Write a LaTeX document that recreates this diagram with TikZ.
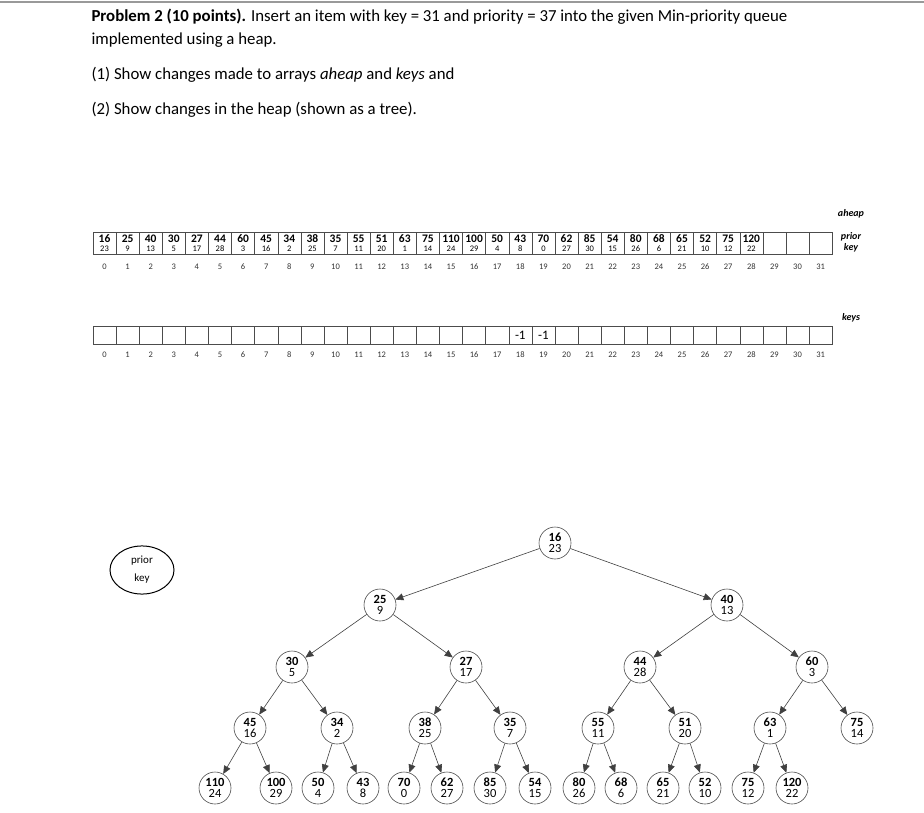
\documentclass[tikz,border=0pt]{standalone}
\usepackage{fontspec}
\setmainfont{Carlito}
\usetikzlibrary{arrows.meta,shapes.geometric}
\begin{document}
\begin{tikzpicture}[x=1pt,y=-1pt,
  tn/.style={circle,draw=black!70,line width=0.6pt,minimum size=32pt,inner sep=0pt,align=center,font=\fontsize{12.5}{11}\selectfont},
  cell/.style={draw=black!70,minimum width=23.1pt,minimum height=22pt,inner sep=0pt},
  idx/.style={font=\fontsize{8.5}{9}\selectfont,text=black!80},
  ar/.style={-{Triangle[length=8pt,width=7pt]},black!75,line width=0.6pt}]
\useasboundingbox (0,0) rectangle (924,813);
\draw[black!40,line width=1.5pt] (0,2) -- (924,2);
\node[anchor=west,font=\fontsize{16.8}{20}\selectfont] (t1) at (88,17) {\textbf{Problem 2 (10 points).} Insert an item with key = 31 and priority = 37 into the given Min-priority queue};
\node[anchor=west,font=\fontsize{16.8}{20}\selectfont] (t2) at (88,40) {implemented using a heap.};
\node[anchor=west,font=\fontsize{16.8}{20}\selectfont] (t3) at (88,75) {(1) Show changes made to arrays \textit{aheap} and \textit{keys} and};
\node[anchor=west,font=\fontsize{16.8}{20}\selectfont] (t4) at (88,110) {(2) Show changes in the heap (shown as a tree).};
% aheap array
\foreach \i/\p/\k in {0/16/23,1/25/9,2/40/13,3/30/5,4/27/17,5/44/28,6/60/3,7/45/16,8/34/2,9/38/25,10/35/7,11/55/11,12/51/20,13/63/1,14/75/14,15/110/24,16/100/29,17/50/4,18/43/8,19/70/0,20/62/27,21/85/30,22/54/15,23/80/26,24/68/6,25/65/21,26/52/10,27/75/12,28/120/22,29/{}/{},30/{}/{},31/{}/{}}{
  \node[cell] (a\i) at ({104.5+23.1*\i},243) {};
  \node[font=\bfseries\fontsize{11.5}{11}\selectfont,inner sep=0pt] (ap\i) at ([yshift=4.5pt]a\i.center) {\p};
  \node[font=\fontsize{8.5}{9}\selectfont,inner sep=0pt] (ak\i) at ([yshift=-5.5pt]a\i.center) {\k};
  \node[idx] (ai\i) at ({104.5+23.1*\i},267) {\i};
  \node[cell,minimum height=18pt] (k\i) at ({104.5+23.1*\i},335) {};
  \node[idx] (ki\i) at ({104.5+23.1*\i},355) {\i};
}
\node[font=\fontsize{13}{13}\selectfont] (m18) at (k18) {-1};
\node[font=\fontsize{13}{13}\selectfont] (m19) at (k19) {-1};
\node[font=\bfseries\itshape\fontsize{10}{11}\selectfont] (lah) at (851,214) {aheap};
\node[font=\bfseries\itshape\fontsize{10}{11}\selectfont,align=center] (lpk) at (851,242) {prior\\key};
\node[font=\bfseries\itshape\fontsize{10}{11}\selectfont] (lk) at (851,318) {keys};
% legend
\node[ellipse,draw,minimum width=64pt,minimum height=48pt,align=center,font=\fontsize{11}{16}\selectfont,line width=1pt] (leg) at (142,570) {prior\\[2pt]key};
% tree
\foreach \n/\x/\y/\p/\k in {
 r/555/543/16/23,
 a/380/605/25/9, b/727/605/40/13,
 c/292/667/30/5, d/466/667/27/17, e/640/667/44/28, f/812/667/60/3,
 g/250/728/45/16, h/337/728/34/2, i/425/728/38/25, j/510/728/35/7, k/598/728/55/11, l/685/728/51/20, m/770/728/63/1, n/857/728/75/14,
 o/215/788/110/24, p/276/788/100/29, q/318/788/50/4, s/363/788/43/8, t/404/788/70/0, u/447/788/62/27, v/490/788/85/30, w/535/788/54/15,
 x/579/788/80/26, y/621/788/68/6, z/663/788/65/21, A/705/788/52/10, B/748/788/75/12, C/792/788/120/22}{
  \node[tn] (\n) at (\x,\y) {\textbf{\p}\\\k};
}
\foreach \u/\v in {r/a,r/b,a/c,a/d,b/e,b/f,c/g,c/h,d/i,d/j,e/k,e/l,f/m,f/n,g/o,g/p,h/q,h/s,i/t,i/u,j/v,j/w,k/x,k/y,l/z,l/A,m/B,m/C}
  \draw[ar] (\u) -- (\v);
\end{tikzpicture}
\end{document}
